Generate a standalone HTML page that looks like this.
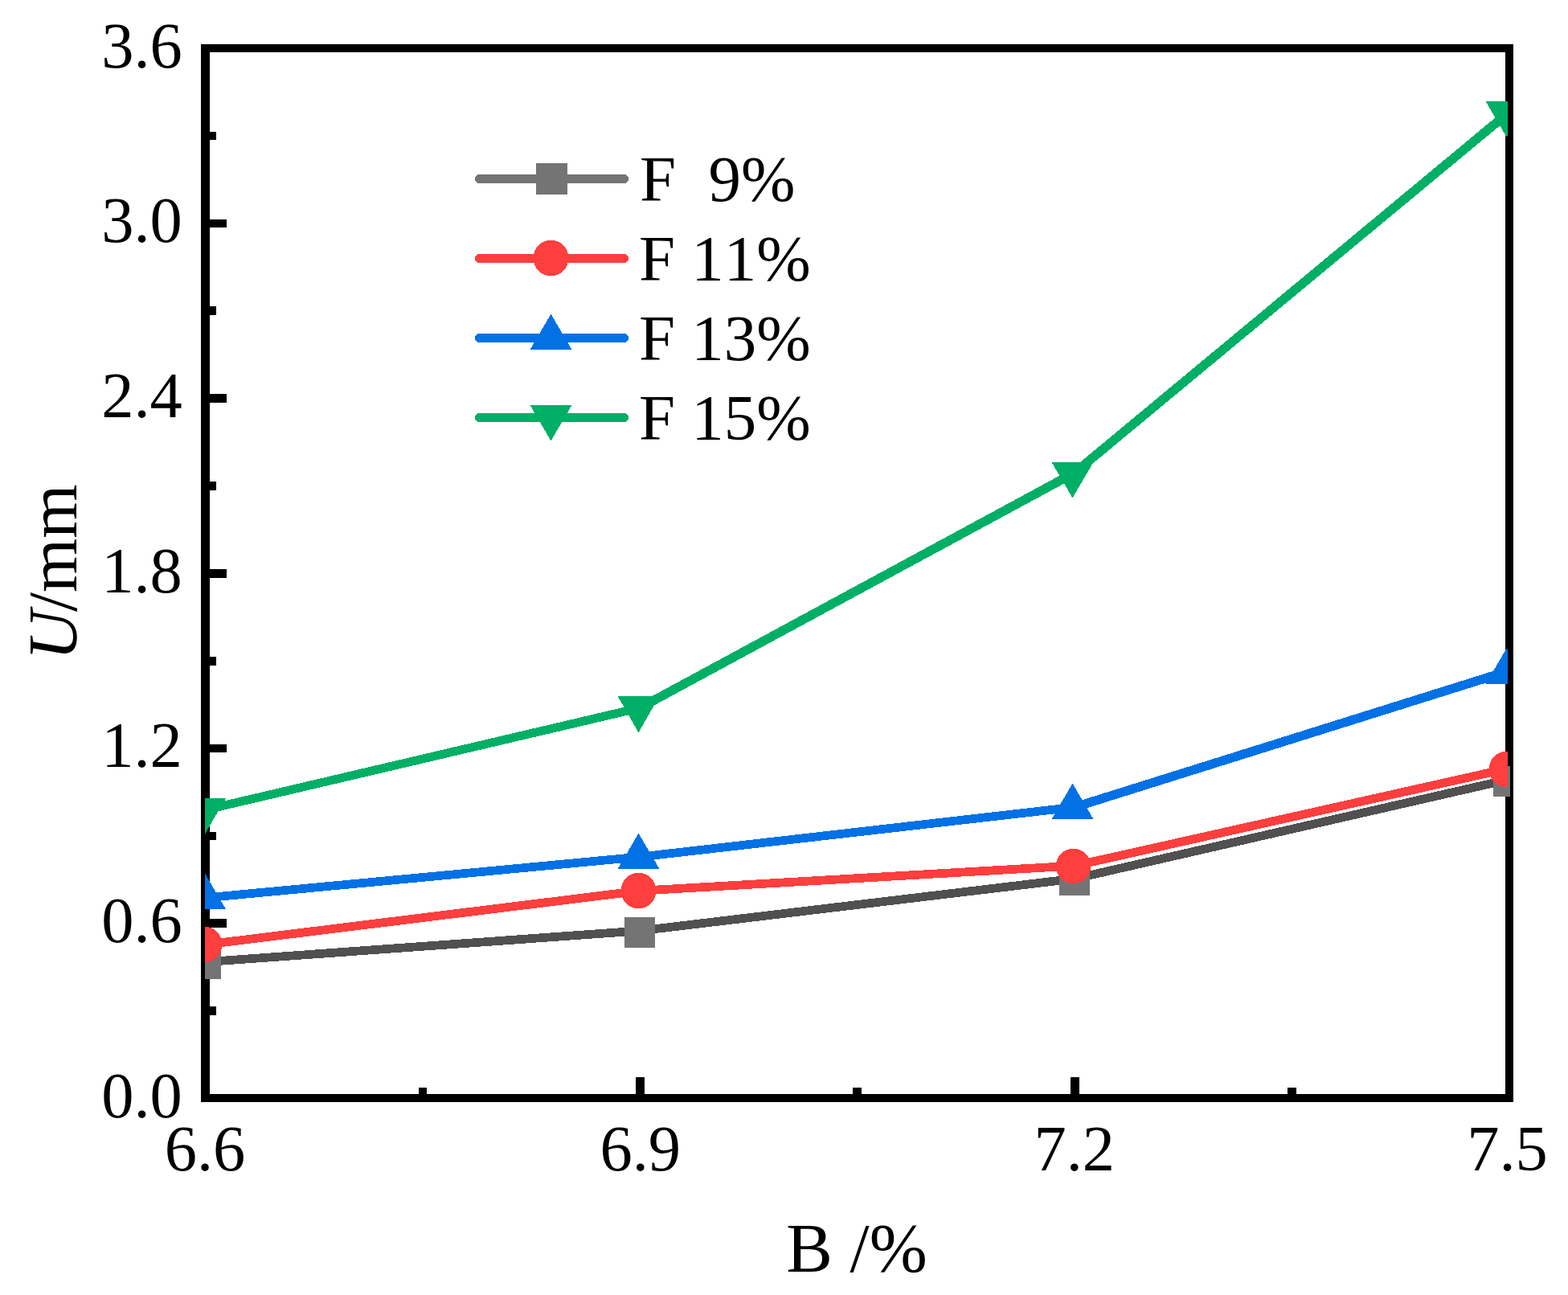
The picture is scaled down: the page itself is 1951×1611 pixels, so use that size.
<!DOCTYPE html>
<html lang="en">
<head>
<meta charset="utf-8">
<title>U/mm vs B /%</title>
<style>
html,body{margin:0;padding:0;background:#fff;}
body{width:1951px;height:1611px;overflow:hidden;}
svg{display:block;}
text{font-family:"Liberation Serif",serif;fill:#000;font-kerning:none;font-variant-ligatures:none;}
.tick{font-size:80.5px;}
.ttl{font-size:86.5px;}
.leg{font-size:81.0px;}
</style>
</head>
<body>
<svg width="1951" height="1611" viewBox="0 0 1951 1611">
<rect x="0" y="0" width="1951" height="1611" fill="#ffffff"/>
<defs>
<clipPath id="cpA"><rect x="255" y="60" width="1624" height="1306"/></clipPath>
<clipPath id="cpB"><rect x="255" y="60" width="1621" height="1306"/></clipPath>
</defs>
<g id="axes" fill="#000" shape-rendering="crispEdges">
<rect x="250" y="55" width="11" height="1316"/>
<rect x="1873" y="55" width="10" height="1316"/>
<rect x="250" y="55" width="1633" height="10"/>
<rect x="250" y="1361" width="1633" height="10"/>
<rect x="261" y="164" width="8" height="10"/>
<rect x="261" y="273" width="21" height="10"/>
<rect x="261" y="381" width="8" height="11"/>
<rect x="261" y="490" width="21" height="11"/>
<rect x="261" y="599" width="8" height="11"/>
<rect x="261" y="708" width="21" height="11"/>
<rect x="261" y="817" width="8" height="11"/>
<rect x="261" y="926" width="21" height="10"/>
<rect x="261" y="1035" width="8" height="10"/>
<rect x="261" y="1143" width="21" height="11"/>
<rect x="261" y="1252" width="8" height="11"/>
<rect x="521" y="1353" width="10" height="8"/>
<rect x="791" y="1340" width="11" height="21"/>
<rect x="1061" y="1353" width="11" height="8"/>
<rect x="1332" y="1340" width="11" height="21"/>
<rect x="1602" y="1353" width="11" height="8"/>
</g>
<g id="data" shape-rendering="crispEdges">
<g clip-path="url(#cpA)">
<line x1="255.5" y1="1196.7" x2="796.3" y2="1157.9" stroke="#505050" stroke-width="10.7" stroke-linecap="round"/>
<line x1="796.3" y1="1157.9" x2="1337.2" y2="1093.1" stroke="#505050" stroke-width="10.7" stroke-linecap="round"/>
<line x1="1337.2" y1="1093.1" x2="1878.0" y2="969.5" stroke="#505050" stroke-width="10.7" stroke-linecap="round"/>
<rect x="237" y="1180" width="38.0" height="38.0" fill="#747474"/>
<rect x="777" y="1141" width="38.0" height="38.0" fill="#747474"/>
<rect x="1318" y="1076" width="38.0" height="38.0" fill="#747474"/>
<rect x="1858" y="953" width="38.0" height="38.0" fill="#747474"/>
</g>
<g clip-path="url(#cpB)">
<line x1="255.5" y1="1175.1" x2="796.3" y2="1108.2" stroke="#FF3E3E" stroke-width="10.7" stroke-linecap="round"/>
<line x1="796.3" y1="1108.2" x2="1337.2" y2="1077.0" stroke="#FF3E3E" stroke-width="10.7" stroke-linecap="round"/>
<line x1="1337.2" y1="1077.0" x2="1878.0" y2="955.7" stroke="#FF3E3E" stroke-width="10.7" stroke-linecap="round"/>
<ellipse cx="254.5" cy="1175.0" rx="21.8" ry="22.3" fill="#FF3E3E"/>
<ellipse cx="794.5" cy="1108.0" rx="21.8" ry="22.3" fill="#FF3E3E"/>
<ellipse cx="1335.5" cy="1077.5" rx="21.8" ry="21.8" fill="#FF3E3E"/>
<ellipse cx="1874.5" cy="957.0" rx="21.8" ry="22.3" fill="#FF3E3E"/>
</g>
<g clip-path="url(#cpB)">
<line x1="255.5" y1="1116.9" x2="796.3" y2="1066.0" stroke="#0171E5" stroke-width="10.7" stroke-linecap="round"/>
<line x1="796.3" y1="1066.0" x2="1337.2" y2="1004.1" stroke="#0171E5" stroke-width="10.7" stroke-linecap="round"/>
<line x1="1337.2" y1="1004.1" x2="1878.0" y2="834.4" stroke="#0171E5" stroke-width="11.3" stroke-linecap="round"/>
<polygon points="229.0,1131 281.0,1131 255.0,1086.6" fill="#0171E5"/>
<polygon points="768.5,1081 820.5,1081 794.5,1036.6" fill="#0171E5"/>
<polygon points="1308.5,1019 1360.5,1019 1334.5,974.6" fill="#0171E5"/>
<polygon points="1848.5,851 1900.5,851 1874.5,806.6" fill="#0171E5"/>
</g>
<g clip-path="url(#cpB)">
<line x1="255.5" y1="1007.5" x2="796.3" y2="880.6" stroke="#00AF66" stroke-width="10.7" stroke-linecap="round"/>
<line x1="796.3" y1="880.6" x2="1337.2" y2="588.0" stroke="#00AF66" stroke-width="11.3" stroke-linecap="round"/>
<line x1="1337.2" y1="588.0" x2="1878.0" y2="139.2" stroke="#00AF66" stroke-width="11.3" stroke-linecap="round"/>
<polygon points="229.0,993 281.0,993 255.0,1037.4" fill="#00AF66"/>
<polygon points="768.5,866 820.5,866 794.5,911.4" fill="#00AF66"/>
<polygon points="1308.5,575 1360.5,575 1334.5,619.4" fill="#00AF66"/>
<polygon points="1848.5,126 1900.5,126 1874.5,170.4" fill="#00AF66"/>
</g>
</g>
<g id="legend">
<polygon points="594.5,217.0 778.5,217.0 782.0,220.5 782.0,224.5 778.5,228.0 594.5,228.0 591.0,224.5 591.0,220.5" fill="#747474" shape-rendering="crispEdges"/>
<rect x="667" y="203" width="39.0" height="39.0" fill="#747474" shape-rendering="crispEdges"/>
<text class="leg" x="796.0" y="249.8">F&#160;&#160;9%</text>
<polygon points="594.5,316.0 778.5,316.0 782.0,319.5 782.0,323.5 778.5,327.0 594.5,327.0 591.0,323.5 591.0,319.5" fill="#FF3E3E" shape-rendering="crispEdges"/>
<ellipse cx="685.5" cy="321.0" rx="21.8" ry="22.3" fill="#FF3E3E" shape-rendering="crispEdges"/>
<text class="leg" x="795.0" y="348.8">F 11%</text>
<polygon points="594.5,415.0 778.5,415.0 782.0,418.5 782.0,422.5 778.5,426.0 594.5,426.0 591.0,422.5 591.0,418.5" fill="#0171E5" shape-rendering="crispEdges"/>
<polygon points="659.5,435 711.5,435 685.5,390.6" fill="#0171E5" shape-rendering="crispEdges"/>
<text class="leg" x="795.0" y="447.5">F 13%</text>
<polygon points="594.5,514.0 778.5,514.0 782.0,517.5 782.0,521.5 778.5,525.0 594.5,525.0 591.0,521.5 591.0,517.5" fill="#00AF66" shape-rendering="crispEdges"/>
<polygon points="659.5,504 711.5,504 685.5,548.4" fill="#00AF66" shape-rendering="crispEdges"/>
<text class="leg" x="795.0" y="546.5">F 15%</text>
</g>
<g id="ylabels" text-anchor="end">
<text class="tick" x="226.8" y="1389.6">0.0</text>
<text class="tick" x="226.8" y="1171.9">0.6</text>
<text class="tick" x="226.8" y="954.3">1.2</text>
<text class="tick" x="226.8" y="736.6">1.8</text>
<text class="tick" x="226.8" y="518.9">2.4</text>
<text class="tick" x="226.8" y="301.3">3.0</text>
<text class="tick" x="226.8" y="83.6">3.6</text>
</g>
<g id="xlabels" text-anchor="middle">
<text class="tick" x="255.0" y="1456.3">6.6</text>
<text class="tick" x="796.8" y="1456.3">6.9</text>
<text class="tick" x="1336.7" y="1456.3">7.2</text>
<text class="tick" x="1875.5" y="1456.3">7.5</text>
</g>
<text class="ttl" x="1066.0" y="1582.0" text-anchor="middle">B /%</text>
<text class="ttl" transform="translate(95.0,821.6) rotate(-90)"><tspan font-style="italic">U</tspan><tspan dx="-1.9">/mm</tspan></text>
</svg>
</body>
</html>
